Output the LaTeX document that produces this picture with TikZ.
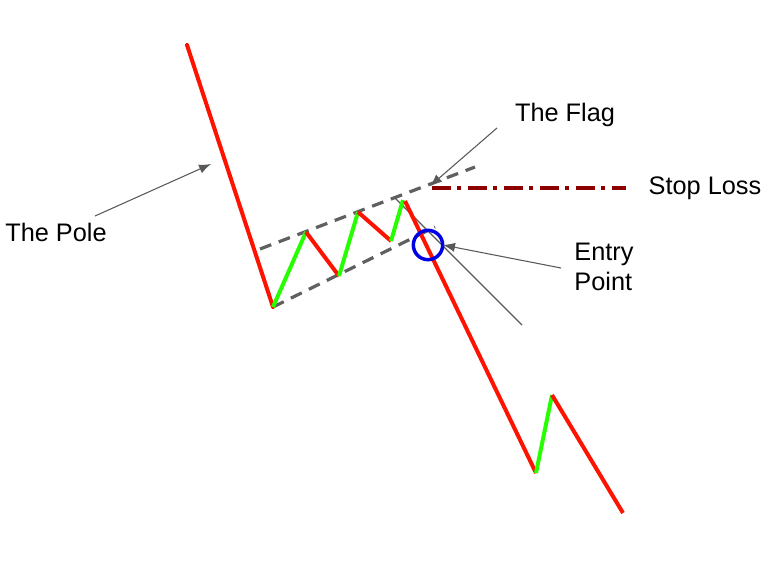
\documentclass[tikz,border=0pt]{standalone}
\usepackage{fontspec}
\setmainfont{Liberation Sans}
\usetikzlibrary{arrows.meta}
\tikzset{
  down/.style={line width=3pt, red!85!orange},
  up/.style={line width=3pt, green!80!lime},
  channel/.style={line width=2.4pt, gray!75!black, dash pattern=on 9pt off 6pt},
  pointer/.style={gray!70!black, line width=0.8pt, -{Latex[length=9pt,width=7pt]}},
  label/.style={font=\fontsize{19}{23}\selectfont, align=left}
}
\begin{document}
\begin{tikzpicture}[x=0.75pt,y=-0.75pt]
        \useasboundingbox (0,0) rectangle (770,565);

        % Points of the price line
        \coordinate (P0) at (187,45);
        \coordinate (P1) at (273,307);
        \coordinate (P2) at (306,232);
        \coordinate (P3) at (339,276);
        \coordinate (P4) at (358,212);
        \coordinate (P5) at (391,241);
        \coordinate (P6) at (403,200);
        \coordinate (P7) at (536,473);
        \coordinate (P8) at (552,395);
        \coordinate (P9) at (623,513);

        % Flag channel
        \draw[channel] (260,249) -- (475,167);
        \draw[channel] (P1) -- (435,227);

        % Thin trend line
        \draw[gray!70!black, line width=0.8pt] (395,198) -- (522,325);

        % Price line
        \draw[down, line cap=round] (P0) -- (P1);
        \draw[up] (P1) -- (P2);
        \draw[down] (P2) -- (P3);
        \draw[up] (P3) -- (P4);
        \draw[down] (P4) -- (P5);
        \draw[up] (P5) -- (P6);
        \draw[down] (405,201) -- (P7);
        \draw[up] (P7) -- (P8);
        \draw[down] (P8) -- (P9);

        % Stop loss
        \draw[line width=3pt, red!55!black, dash pattern=on 14pt off 5pt on 3pt off 5pt] (432,188) -- (626,188);

        % Entry circle
        \node[circle, draw=blue!90!black, line width=2.6pt, minimum size=22pt, inner sep=0pt] (entry) at (428,245) {};

        % Labels
        \node[label] (pole) at (56,232) {The Pole};
        \node[label] (flag) at (565,115) {The Flag};
        \node[label] (stop) at (705,188) {Stop Loss};
        \node[label] (point) at (604,267) {Entry\\Point};

        % Pointers
        \coordinate (poletip) at (211,164);
        \coordinate (flagtip) at (430,186);
        \coordinate (entrytip) at (443,245);
        \draw[pointer] (95,216) -- (poletip);
        \draw[pointer] (497,128) -- (flagtip);
        \draw[pointer] (561,268) -- (entrytip);
\end{tikzpicture}
\end{document}
